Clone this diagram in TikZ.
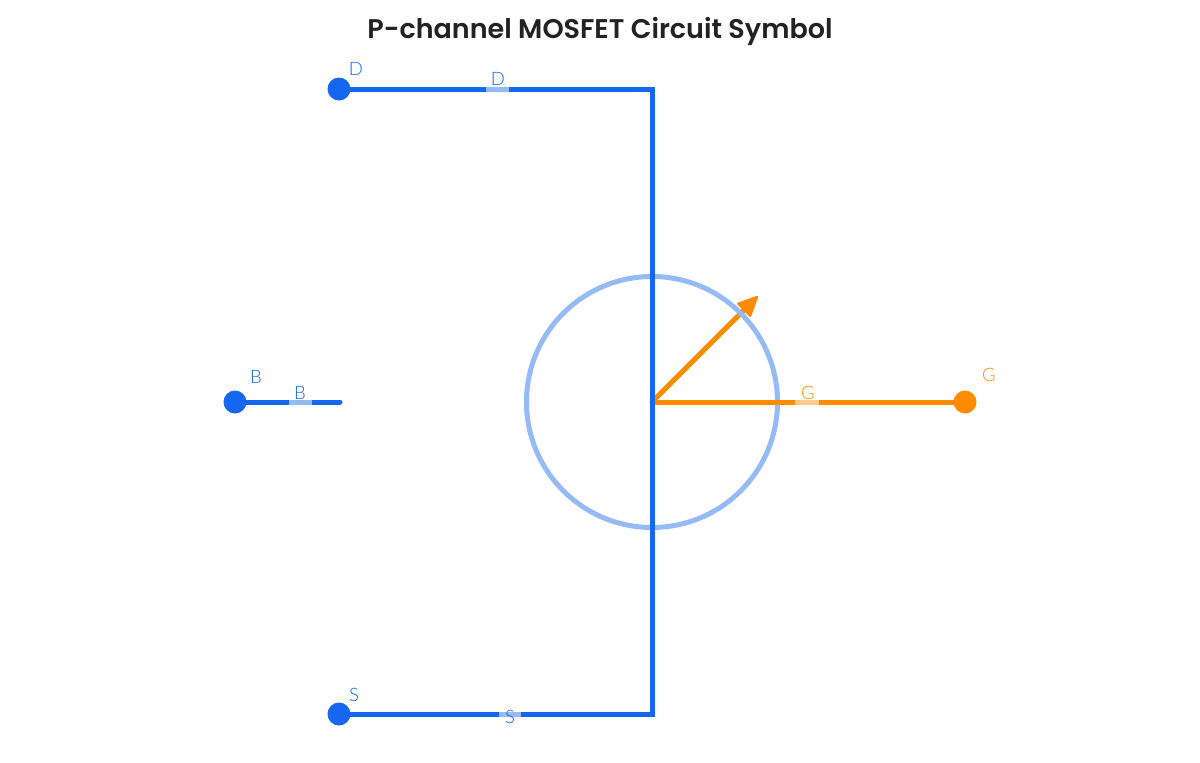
\documentclass[tikz,border=0pt]{standalone}
\usepackage{fontspec}
\setmainfont{Lato Light}
\newfontfamily\titlefont{Poppins SemiBold}
\usetikzlibrary{arrows.meta}
\definecolor{chanblue}{HTML}{1467EE}
\definecolor{gateorange}{HTML}{FF8C00}
\definecolor{titleink}{HTML}{222222}
\tikzset{
  wire/.style={line width=5pt,line join=miter},
  bluewire/.style={wire,draw=chanblue},
  orangewire/.style={wire,draw=gateorange},
  terminal/.style={circle,inner sep=0pt,minimum size=23pt},
  halo/.style={fill=white,fill opacity=0.55,inner sep=0pt,minimum height=5.5pt,draw=none},
  lab/.style={inner sep=0pt,font=\fontsize{18.5}{22}\selectfont},
}
\begin{document}
\begin{tikzpicture}[x=1pt,y=-1pt]
\useasboundingbox (0,0) rectangle (1200,763);
\fill[white] (0,0) rectangle (1200,763);
\node[inner sep=0pt,text=titleink,font=\titlefont\fontsize{27}{32}\selectfont] (title) at (600,31) {P-channel MOSFET Circuit Symbol};
% anchors
\coordinate (c) at (652,402);
\coordinate (dc) at (652,89);
\coordinate (sc) at (652,714);
\coordinate (bend) at (340,402);
\coordinate (tip) at (758,296);
% terminals
\node[terminal,fill=chanblue] (D) at (339,89) {};
\node[terminal,fill=chanblue] (S) at (339,714) {};
\node[terminal,fill=chanblue] (B) at (235,402) {};
\node[terminal,fill=gateorange] (G) at (965,402) {};
% diagonal arrow lies under the ring
\draw[orangewire,line cap=round,-{Triangle[length=22pt,width=20pt,line width=2pt,round]}] (c) -- (tip);
% ring
\node[circle,draw=chanblue!45!white,line width=5pt,minimum size=251pt,inner sep=0pt] (ring) at (c) {};
% connectors
\draw[orangewire] (c) -- (G.center);
\draw[bluewire] (D.center) -- (dc) -- (sc) -- (S.center);
\draw[bluewire,line cap=round] (B.center) -- (bend);
% label halos
\node[halo,minimum width=23pt] (hD) at (497.5,89) {};
\node[halo,minimum width=23pt] (hB) at (300.5,402) {};
\node[halo,minimum width=24pt] (hG) at (807,402) {};
\node[halo,minimum width=22pt] (hS) at (510,714) {};
% labels
\node[lab,text=chanblue] (lD2) at (498,79) {D};
\node[lab,text=chanblue] (lB2) at (300,393) {B};
\node[lab,text=gateorange] (lG2) at (808,393) {G};
\node[lab,text=chanblue] (lS2) at (510,717) {S};
\node[lab,text=chanblue] (lD) at (356,69) {D};
\node[lab,text=chanblue] (lB) at (256,377) {B};
\node[lab,text=chanblue] (lS) at (354,695) {S};
\node[lab,text=gateorange] (lG) at (989,375) {G};
\end{tikzpicture}
\end{document}
